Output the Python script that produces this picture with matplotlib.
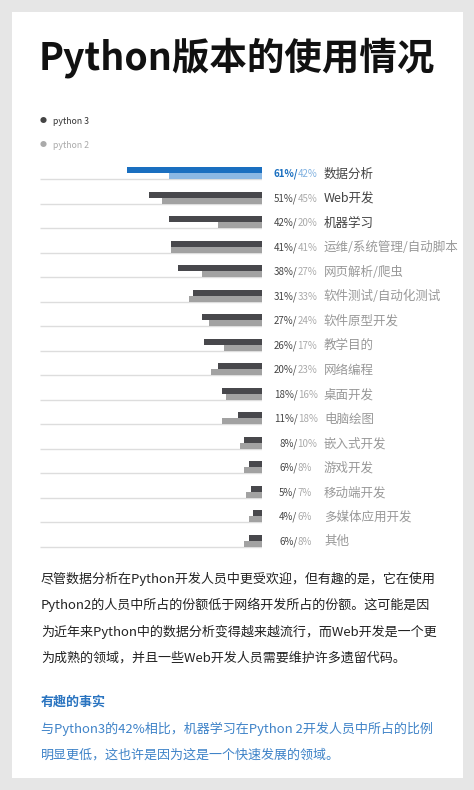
import matplotlib
matplotlib.use("Agg")
import matplotlib.pyplot as plt
from matplotlib.patches import Rectangle
from matplotlib.transforms import blended_transform_factory

plt.rcParams["font.family"] = ["Noto Sans CJK SC", "DejaVu Sans"]

categories = [
    "数据分析", "Web开发", "机器学习", "运维/系统管理/自动脚本", "网页解析/爬虫",
    "软件测试/自动化测试", "软件原型开发", "教学目的", "网络编程", "桌面开发",
    "电脑绘图", "嵌入式开发", "游戏开发", "移动端开发", "多媒体应用开发", "其他",
]
python3 = [61, 51, 42, 41, 38, 31, 27, 26, 20, 18, 11, 8, 6, 5, 4, 6]
python2 = [42, 45, 20, 41, 27, 33, 24, 17, 23, 16, 18, 10, 8, 7, 6, 8]

title = "Python版本的使用情况"
paragraph = [
    "尽管数据分析在Python开发人员中更受欢迎，但有趣的是，它在使用",
    "Python2的人员中所占的份额低于网络开发所占的份额。这可能是因",
    "为近年来Python中的数据分析变得越来越流行，而Web开发是一个更",
    "为成熟的领域，并且一些Web开发人员需要维护许多遗留代码。",
]
fact_title = "有趣的事实"
fact_lines = [
    "与Python3的42%相比，机器学习在Python 2开发人员中所占的比例",
    "明显更低，这也许是因为这是一个快速发展的领域。",
]

W, H = 474, 790
fig = plt.figure(figsize=(W / 100, H / 100), dpi=100)
fig.patch.set_facecolor("#e6e6e6")


def fx(px):
    return px / W


def fy(py):
    return 1 - py / H


# white card, kept behind the bar axes
fig.patches.append(Rectangle((fx(12), fy(778)), fx(451), (778 - 12) / H,
                             transform=fig.transFigure, facecolor="white",
                             edgecolor="none", zorder=-5))

fig.text(fx(237), fy(58), title, ha="center", va="center", fontsize=27,
         fontweight="bold", color="#111111")

# legend
fig.text(fx(43), fy(121), "●", ha="center", va="center", fontsize=5, color="#444444")
fig.text(fx(53), fy(121), "python 3", ha="left", va="center", fontsize=6.3, color="#333333")
fig.text(fx(43), fy(145), "●", ha="center", va="center", fontsize=5, color="#aaaaaa")
fig.text(fx(53), fy(145), "python 2", ha="left", va="center", fontsize=6.3, color="#aaaaaa")

# bars
n = len(categories)
row_px = 24.5
top_px = 179 - row_px
bot_px = 179 + row_px * (n - 1) + row_px / 2
ax = fig.add_axes([fx(40), fy(bot_px), fx(222), (bot_px - top_px) / H])
ax.set_xlim(100, 0)
ax.set_ylim(n - 0.5, -1)
ax.axis("off")

bh = 6 / row_px
rows = list(range(n))
c3 = ["#1a6fc0"] + ["#48484c"] * (n - 1)
c2 = ["#8bb8e4"] + ["#a2a2a2"] * (n - 1)
ax.barh([r - 1.5 * bh for r in rows], python3, height=bh, color=c3, zorder=2)
ax.barh([r - 0.5 * bh for r in rows], python2, height=bh, color=c2, zorder=2)
ax.hlines(rows, 0, 100, color="#dddddd", linewidth=1, zorder=1)

renderer = fig.canvas.get_renderer()
tr = blended_transform_factory(fig.transFigure, ax.transData)
for i, (cat, a, b) in enumerate(zip(categories, python3, python2)):
    yc = i - bh + 0.05
    x0 = 274 if a >= 10 else 279
    if i == 0:
        ca, cb, wa = "#1a6fc0", "#7fb0e0", "bold"
    else:
        ca, cb, wa = "#444444", "#aaaaaa", "normal"
    # measure the whole label so the two coloured parts sit where one string would
    probe = ax.text(0, 0, f"{a}%/{b}%", fontsize=7)
    w_full = probe.get_window_extent(renderer).width
    probe.remove()
    ax.text(fx(x0), yc, f"{a}%/", transform=tr, ha="left", va="center",
            fontsize=7, color=ca, fontweight=wa)
    ax.text(fx(x0) + w_full / W, yc, f"{b}%", transform=tr, ha="right",
            va="center", fontsize=7, color=cb)
    ax.text(fx(324), yc, cat, transform=tr, ha="left", va="center",
            fontsize=9, color="#444444" if i < 3 else "#999999")

# paragraph
for k, line in enumerate(paragraph):
    fig.text(fx(41), fy(579 + 26.3 * k), line, ha="left", va="center",
             fontsize=9.4, color="#222222")

fig.text(fx(41), fy(702), fact_title, ha="left", va="center", fontsize=9.4,
         fontweight="bold", color="#2a74c0")
for k, line in enumerate(fact_lines):
    fig.text(fx(41), fy(729 + 26.3 * k), line, ha="left", va="center",
             fontsize=9.4, color="#3f83c8")

fig.savefig("out.png", dpi=100, facecolor=fig.get_facecolor())
